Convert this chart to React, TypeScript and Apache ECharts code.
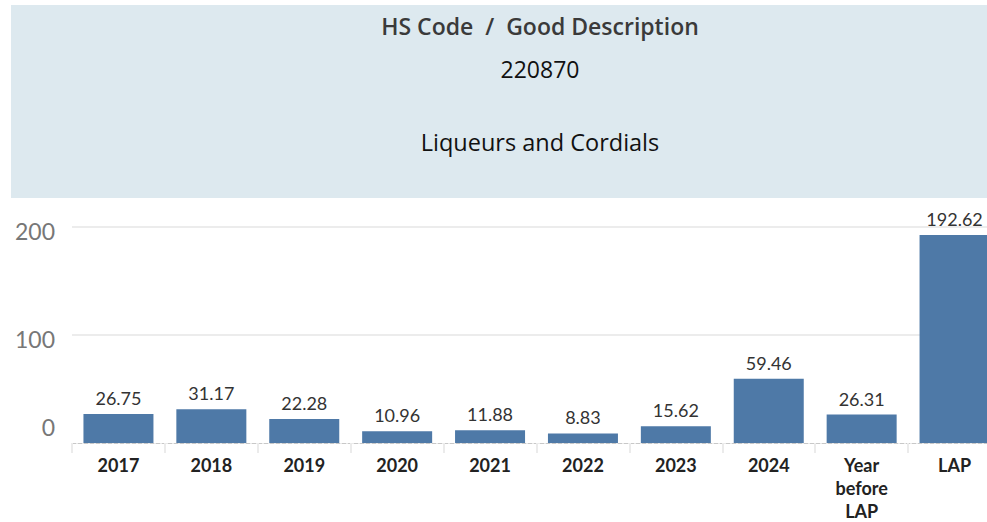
import React, { useEffect, useRef } from "react";
import * as echarts from "echarts";

const categories = ["2017", "2018", "2019", "2020", "2021", "2022", "2023", "2024", "Year\nbefore\nLAP", "LAP"];
const values = [26.75, 31.17, 22.28, 10.96, 11.88, 8.83, 15.62, 59.46, 26.31, 192.62];
const headerTitle = "HS Code  /  Good Description";
const hsCode = "220870";
const goodDescription = "Liqueurs and Cordials";

export default function App() {
  const ref = useRef<HTMLDivElement>(null);
  useEffect(() => {
    if (!ref.current) return;
    const chart = echarts.init(ref.current, null, { renderer: "svg" });
    chart.setOption({
      animation: false,
      backgroundColor: "#ffffff",
      graphic: [
        {
          type: "rect",
          z: -1,
          shape: { x: 11, y: 5, width: 976, height: 193 },
          style: { fill: "#dde9ef" },
        },
      ],
      title: [
        {
          text: headerTitle,
          left: 535,
          top: 9,
          textAlign: "center",
          textStyle: { fontFamily: "Open Sans", fontSize: 23, fontWeight: 600, color: "#3a3a3a" },
        },
        {
          text: hsCode,
          left: 535,
          top: 52,
          textAlign: "center",
          textStyle: { fontFamily: "Open Sans", fontSize: 23, fontWeight: "normal", color: "#111" },
        },
        {
          text: goodDescription,
          left: 535,
          top: 125,
          textAlign: "center",
          textStyle: { fontFamily: "Open Sans", fontSize: 23.5, fontWeight: "normal", color: "#111" },
        },
      ],
      grid: { left: 72, width: 929, top: 227, bottom: 79, containLabel: false, outerBoundsMode: "none" },
      xAxis: {
        type: "category",
        data: categories,
        axisLine: { show: true, lineStyle: { color: "#c8c8c8", type: "dashed", width: 1 } },
        axisTick: { show: true, length: 10, lineStyle: { color: "#ebebeb", width: 2 } },
        axisLabel: {
          margin: 10,
          fontFamily: "Lato",
          fontSize: 18,
          fontWeight: "bold",
          color: "#222",
          lineHeight: 23,
          interval: 0,
        },
        z: 5,
      },
      yAxis: {
        type: "value",
        min: 0,
        max: 200,
        interval: 100,
        axisLine: { show: false },
        axisTick: { show: false },
        splitLine: { show: true, lineStyle: { color: ["rgba(0,0,0,0)", "#ececec", "#ececec"], width: 2 } },
        axisLabel: {
          margin: 17,
          formatter: (v: number) => (v === 0 ? "{z|0}" : "{n|" + v + "}"),
          rich: {
            z: { fontFamily: "Lato", fontSize: 23, color: "#777", padding: [0, 0, 32, 0] },
            n: { fontFamily: "Lato", fontSize: 23, color: "#777", padding: [7, 0, 0, 0] },
          },
        },
      },
      series: [
        {
          type: "bar",
          data: values,
          barWidth: 70,
          itemStyle: { color: "#4e79a7" },
          label: {
            show: true,
            position: "top",
            distance: 7,
            fontFamily: "Lato",
            fontSize: 18,
            color: "#333",
            formatter: (p: any) => p.value.toFixed(2),
          },
        },
      ],
    });
    return () => chart.dispose();
  }, []);
  return <div ref={ref} style={{ position: "fixed", left: 0, top: 0, width: 987, height: 522 }} />;
}
